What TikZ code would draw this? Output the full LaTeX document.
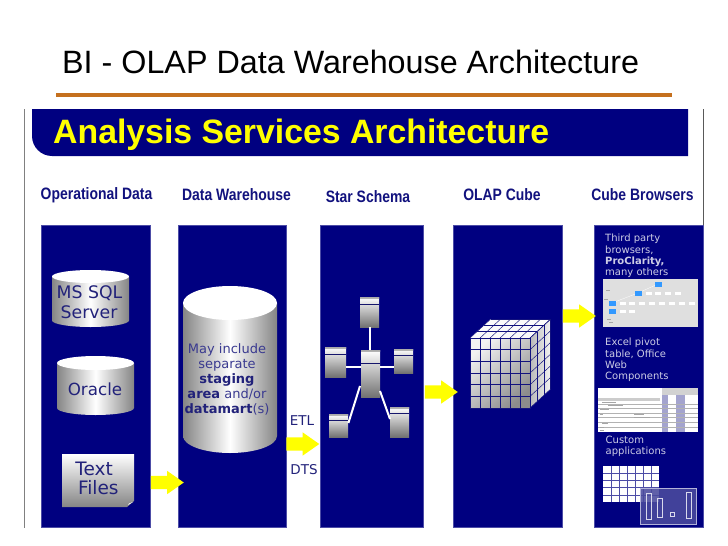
\documentclass[tikz,border=0pt]{standalone}
\usepackage{fontspec}
\setmainfont{Liberation Sans}
\newfontfamily\vfont{DejaVu Sans}
\usetikzlibrary{shapes.arrows}
\definecolor{navyp}{HTML}{000080}
\definecolor{inkb}{HTML}{22227A}
\definecolor{inkl}{HTML}{3A3A90}
\definecolor{oran}{HTML}{C5701E}
\definecolor{yell}{HTML}{FFFF00}
\definecolor{edgeg}{HTML}{858585}
\definecolor{hdrb}{HTML}{12127E}
\definecolor{chartb}{HTML}{4B4B9E}
\tikzset{
  x=1pt,y=-1pt,
  panel/.style={fill=navyp,draw=navyp!70!white,line width=0.5pt},
  cylbody/.style={left color=edgeg,right color=edgeg,middle color=white},
  head/.style={font=\bfseries\fontsize{16.5}{16.5}\selectfont,text=hdrb,inner sep=0,anchor=center,xscale=.845},
  lab/.style={font=\vfont\fontsize{17.3}{20}\selectfont,text=inkb,inner sep=0,align=left},
  side/.style={font=\vfont\fontsize{10}{11.2}\selectfont,text=white!80!navyp,inner sep=0,align=left,anchor=north west},
  yarrow/.style={single arrow,fill=yell,draw=none,inner sep=6.5pt,minimum height=33pt,minimum width=23pt,single arrow head extend=5pt,single arrow tip angle=70},
  etl/.style={font=\vfont\fontsize{13.5}{14}\selectfont,text=inkb,inner sep=0},
  tbl/.style={minimum width=#1,rectangle,inner sep=0,anchor=north west,top color=white,bottom color=edgeg!85!black},
  wire/.style={draw=white,line width=2pt},
  cubeline/.style={draw=hdrb,line width=0.45pt},
}
\newcommand{\startbl}[6]{% name x0 y0 x1 y1 header
  \node[tbl=#4pt-#2pt,minimum height=#5pt-#3pt] (#1) at (#2,#3) {};
  \fill[navyp!75!black,opacity=.9] (#2,#3+#6) rectangle (#4,#3+#6+0.9);
  \shade[top color=edgeg!70,bottom color=edgeg!60] (#2,#3) rectangle (#4,#3+1.5);
}
\newcommand{\cyl}[5]{% x0 x1 ytop ybottomside ry
  \path[cylbody] (#1,#3) -- (#1,#4) arc[start angle=180,end angle=0,x radius=(#2-#1)/2,y radius=#5] -- (#2,#3) -- cycle;
  \fill[white] ({(#1+#2)/2},#3) ellipse[x radius=(#2-#1)/2,y radius=#5];
}
\begin{document}
\begin{tikzpicture}
\useasboundingbox (0,0) rectangle (728,546);
\fill[white] (0,0) rectangle (728,546);
\node[font=\fontsize{32.3}{32}\selectfont,anchor=base west,inner sep=0,text=black] (title) at (62,73) {BI - OLAP Data Warehouse Architecture};
\fill[oran] (56,93) rectangle (671.5,97);
\draw[gray,line width=0.8pt] (24.5,109) -- (24.5,527.5);
\draw[gray!70!black,line width=0.9pt] (703.5,109) -- (703.5,226);
\path[fill=navyp] (32,109) -- (688,109) -- (688,156) -- (52,156) arc[start angle=90,end angle=180,radius=20] -- cycle;
\node[font=\bfseries\fontsize{33.8}{34}\selectfont,text=yell,anchor=base west,inner sep=0] (banner) at (53,143) {Analysis Services Architecture};

\node[head] (h1) at (96.5,195) {Operational Data};
\node[head] (h2) at (236.5,195) {Data Warehouse};
\node[head] (h3) at (368,197) {Star Schema};
\node[head] (h4) at (502,195) {OLAP Cube};
\node[head] (h5) at (642.5,195) {Cube Browsers};

\draw[panel] (41,225) rectangle (150,527);
\draw[panel] (178,225) rectangle (286.5,527);
\draw[panel] (320,225) rectangle (423,527);
\draw[panel] (453.7,225) rectangle (562,527);
\draw[panel] (594,225) rectangle (703,527);

% cylinders
\cyl{52}{129}{276.5}{320.5}{6.5}
\node[lab] (ms) at (89.5,302) {MS SQL\\\hspace*{4pt}Server};
\cyl{57}{134}{363}{408}{7}
\node[lab,font=\vfont\fontsize{16.7}{20}\selectfont] (ora) at (95,389) {Oracle};
\cyl{183}{277}{303}{436}{17}
\node[font=\vfont\fontsize{13}{15}\selectfont,text=inkl,inner sep=0,align=center] (dw) at (227,379) {May include\\separate\\\textcolor{inkb}{\textbf{staging}}\\\textcolor{inkb}{\textbf{area}} and/or\\\textcolor{inkb}{\textbf{datamart}}(s)};

% text files
\path[top color=white,bottom color=edgeg] (62,454) -- (134,454) -- (134,501) -- (127,507) -- (62,507) -- cycle;
\fill[white] (128,505) -- (133,502) -- (129,503.5) -- cycle;
\node[lab,font=\vfont\fontsize{18.5}{19}\selectfont] (tf) at (97,478) {Text\\\hspace*{2.6pt}Files};

% arrows
\node[yarrow] (a1) at (162.5,482.5) {};
\node[yarrow] (a2) at (298,444) {};
\node[yarrow] (a3) at (436.5,392) {};
\node[yarrow] (a4) at (574.5,316) {};
\node[etl] (etl) at (302,421) {ETL};
\node[etl] (dts) at (304,470) {DTS};

% star schema
\startbl{tc}{361}{350}{380}{397}{13}
\startbl{tt}{360}{297}{379}{327}{7}
\startbl{tl}{325}{347}{346}{377}{7}
\startbl{tr}{394}{349}{413}{373}{5.5}
\startbl{tbla}{329}{414}{348}{437}{5.5}
\startbl{tbr}{390}{407}{409}{437}{6}
\draw[wire] (tt.south) -- (tt.south |- tc.north);
\draw[wire] (tl.east |- 0,367) -- (tc.west |- 0,367);
\draw[wire] (tr.west |- 0,367) -- (tc.east |- 0,367);
\draw[wire] (tbla.east |- 0,423) -- (360,386);
\draw[wire] (tbr.west |- 0,419) -- (380,391);

% cube
\shade[top color=white!90!gray,bottom color=gray!90,shading angle=45] (470,338) rectangle (530,408);
\fill[white!97!gray] (470,338) -- (490.7,319) -- (550.7,319) -- (530,338) -- cycle;
\shade[left color=gray!55,right color=white!90!gray] (530,338) -- (550.7,319) -- (550.7,389) -- (530,408) -- cycle;
\foreach \i in {0,...,6} {
  \draw[cubeline] ({470+\i*10},338) -- ({470+\i*10},408);
  \draw[cubeline] ({470+\i*10},338) -- ({490.7+\i*10},319);
}
\foreach \j in {0,...,6} \draw[cubeline] (470,{338+\j*11.67}) -- (530,{338+\j*11.67});
\foreach \k in {0,1,2,3} {
  \draw[cubeline] ({470+\k*6.9},{338-\k*6.33}) -- ({530+\k*6.9},{338-\k*6.33});
  \draw[cubeline] ({530+\k*6.9},{338-\k*6.33}) -- ({530+\k*6.9},{408-\k*6.33});
}
\foreach \j in {0,...,6} \draw[cubeline] (530,{338+\j*11.67}) -- (550.7,{319+\j*11.67});

% browsers
\node[side] (s1) at (605,234) {Third party\\browsers,\\\textbf{ProClarity,}\\many others};
\fill[gray!25] (603,279) rectangle (698,327);
\draw[white,line width=.3pt] (612,303) -- (638,293) -- (658,284);
\foreach \xx/\yy in {658/284,638/293,612/303,612/311} \fill[blue!50!cyan!80!white] (\xx-3.5,\yy-2.5) rectangle (\xx+3.5,\yy+2.5);
\foreach \xx in {649,658,668,678} \fill[white] (\xx-3,292) rectangle (\xx+3,294.5);
\foreach \xx in {623,632,642,652,662,672,682,692} \fill[white] (\xx-3,302) rectangle (\xx+3,304.5);
\foreach \xx in {623,632} \fill[white] (\xx-3,310) rectangle (\xx+3,312.5);
\foreach \xx/\yy in {608/290,606/299,609/319,611/322} \fill[gray!70] (\xx-2,\yy) rectangle (\xx+2,\yy+.8);

\node[side] (s2) at (605,338) {Excel pivot\\table, Office\\Web\\Components};

\fill[white] (598,388) rectangle (698,432);
\fill[blue!30!gray!55] (662,395) rectangle (668,432);
\fill[blue!30!gray!55] (676,395) rectangle (685,432);
\fill[gray!35] (662,388) rectangle (698,395);
\fill[gray!40] (598,398) rectangle (660,401);
\foreach \yy in {404,408,413,417,422,427} \draw[gray!60,line width=.35pt] (598,\yy) -- (698,\yy);
\foreach \xx/\yy/\ww in {602/402/14,608/405/15,600/409/9,600/414/3,634/414/10,634/417/16,602/423/6,600/427/4,600/430/4} \fill[gray!70] (\xx,\yy) rectangle (\xx+\ww,\yy+1);

\node[side] (s3) at (605.5,436) {Custom\\applications};

\fill[white] (603,466) rectangle (659,502);
\foreach \i in {1,...,6} \draw[navyp!70,line width=.4pt] ({603+\i*8},466) -- ({603+\i*8},502);
\foreach \j in {1,...,4} \draw[navyp!70,line width=.4pt] (603,{466+\j*7.2}) -- (659,{466+\j*7.2});
\fill[chartb,fill opacity=.88] (640,488) rectangle (696,524);
\draw[white!70!navyp,line width=.4pt] (640,488) rectangle (696,524);
\draw[white!85!navyp,line width=.45pt] (646,493) rectangle (651,519);
\draw[white!85!navyp,line width=.45pt] (657,498) rectangle (662,517);
\draw[white!85!navyp,line width=.45pt] (670,512) rectangle (674,516);
\draw[white!85!navyp,line width=.45pt] (686,492) rectangle (691,518);
\end{tikzpicture}
\end{document}
